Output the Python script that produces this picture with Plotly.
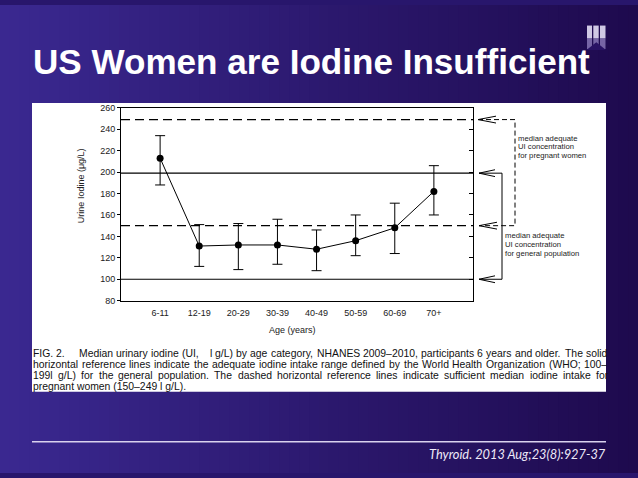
import plotly.graph_objects as go

# ---------------- data ----------------
categories = ["6-11", "12-19", "20-29", "30-39", "40-49", "50-59", "60-69", "70+"]
median_ui = [213, 131, 132, 132, 128, 136, 148, 182]
upper_ui = [234, 151, 152, 156, 146, 160, 171, 206]
lower_ui = [188, 112, 109, 114, 108, 122, 124, 160]
who_range = [100, 199]        # solid reference lines
pregnant_range = [150, 249]   # dashed reference lines
y_ticks = [80, 100, 120, 140, 160, 180, 200, 220, 240, 260]

W, H = 638, 478
def X(px): return px / W
def Y(py): return 1 - py / H

fig = go.Figure()

xs = list(range(len(categories)))
fig.add_trace(go.Scatter(
    x=xs, y=median_ui, mode="lines+markers",
    line=dict(color="black", width=1),
    marker=dict(color="black", size=7),
    error_y=dict(type="data", symmetric=False,
                 array=[u - m for u, m in zip(upper_ui, median_ui)],
                 arrayminus=[m - l for m, l in zip(median_ui, lower_ui)],
                 color="black", thickness=1, width=5),
    showlegend=False, hoverinfo="skip"))

for v in who_range:
    fig.add_shape(type="line", xref="x", yref="y", x0=-1, x1=8, y0=v, y1=v,
                  line=dict(color="black", width=1.2))
for v in pregnant_range:
    fig.add_shape(type="line", xref="x", yref="y", x0=-1, x1=8, y0=v, y1=v,
                  line=dict(color="black", width=1.2, dash="9px,5px"))

def chevron(tip, v, arm=18, dv=3.2):
    return [tip + arm, tip, tip + arm], [v + dv, v, v - dv]

p_lo, p_hi = pregnant_range
fig.add_trace(go.Scatter(x=[5, 42, 42, 6], y=[p_hi, p_hi, p_lo, p_lo], xaxis="x2", yaxis="y",
                         mode="lines", line=dict(color="black", width=1, dash="5px,3px"),
                         showlegend=False, hoverinfo="skip", cliponaxis=False))
for tip, v in [(5, p_hi), (6, p_lo)]:
    cx, cy = chevron(tip, v)
    fig.add_trace(go.Scatter(x=cx, y=cy, xaxis="x2", yaxis="y", mode="lines",
                             line=dict(color="black", width=1), showlegend=False,
                             hoverinfo="skip", cliponaxis=False))
w_lo, w_hi = who_range
fig.add_trace(go.Scatter(x=[6, 29, 29, 6], y=[w_hi, w_hi, w_lo, w_lo], xaxis="x2", yaxis="y",
                         mode="lines", line=dict(color="black", width=1),
                         showlegend=False, hoverinfo="skip", cliponaxis=False))
for tip, v in [(6, w_hi), (6, w_lo)]:
    cx, cy = chevron(tip, v, arm=16)
    fig.add_trace(go.Scatter(x=cx, y=cy, xaxis="x2", yaxis="y", mode="lines",
                             line=dict(color="black", width=1), showlegend=False,
                             hoverinfo="skip", cliponaxis=False))

# ---------------- background gradient ----------------
shapes = []
c0 = (58, 40, 144)
c1 = (30, 10, 78)
N = 64
for i in range(N):
    t = i / (N - 1)
    col = tuple(int(round(a + (b - a) * t)) for a, b in zip(c0, c1))
    shapes.append(dict(type="rect", xref="paper", yref="paper",
                       x0=i / N, x1=(i + 1) / N + 0.002, y0=0, y1=1,
                       fillcolor="rgb(%d,%d,%d)" % col, line=dict(width=0), layer="below"))
shapes.append(dict(type="rect", xref="paper", yref="paper",
                   x0=X(32), x1=X(606), y0=Y(395), y1=Y(100),
                   fillcolor="white", line=dict(width=0), layer="below"))
shapes.append(dict(type="line", xref="paper", yref="paper",
                   x0=X(32), x1=X(606), y0=Y(446), y1=Y(446),
                   line=dict(color="#d9d2ee", width=1.5), layer="above"))
for bx0, bx1 in [(587, 592), (593.3, 598.7), (600, 605.5)]:
    shapes.append(dict(type="rect", xref="paper", yref="paper",
                       x0=X(bx0), x1=X(bx1), y0=Y(34), y1=Y(21),
                       fillcolor="rgba(240,235,255,0.85)", line=dict(width=0), layer="above"))
    shapes.append(dict(type="rect", xref="paper", yref="paper",
                       x0=X(bx0), x1=X(bx1), y0=Y(45), y1=Y(34),
                       fillcolor="rgba(190,175,235,0.55)", line=dict(width=0), layer="above"))
shapes.append(dict(type="path", xref="paper", yref="paper",
                   path="M %f %f L %f %f L %f %f Z" % (X(586.5), Y(46), X(596.3), Y(38), X(606), Y(46)),
                   fillcolor="rgb(40,18,100)", line=dict(width=0), layer="above"))
for s in shapes:
    fig.add_shape(**s)

# ---------------- texts ----------------
ann = []
def T(text, x, y, size, xanchor="left", color="#222", family="Liberation Sans, Arial, sans-serif",
      angle=0, yanchor="middle"):
    ann.append(dict(text=text, x=X(x), y=Y(y), xref="paper", yref="paper", showarrow=False,
                    xanchor=xanchor, yanchor=yanchor, textangle=angle, borderpad=0,
                    font=dict(size=size, color=color, family=family)))

T("<b>US Women are Iodine Insufficient</b>", 32, 57.5, 35.1, color="white")
T("<i>Thyroid. 2013 Aug;23(8):927-37</i>", 607, 458.5, 12.8, xanchor="right", color="#eeeaf8",
  family="Lato, sans-serif")

T("Urine Iodine (μg/L)", 81, 185, 9, xanchor="center", angle=-90)
T("Age (years)", 292, 331.5, 9, xanchor="center")

for i, line in enumerate(["median adequate", "UI concentration", "for pregnant women"]):
    T(line, 517, 136 + 8.7 * i, 7.7, color="#222")
for i, line in enumerate(["median adequate", "UI concentration", "for general population"]):
    T(line, 504, 235.5 + 8.9 * i, 7.7, color="#222")

ARIAL = {' ': 278, '(': 333, ')': 333, ',': 278, '-': 333, '.': 278, '/': 278, ':': 278, ';': 278,
         '–': 556}
for ch in "0123456789":
    ARIAL[ch] = 556
ARIAL.update(dict(zip("ABCDEFGHIJKLMNOPQRSTUVWXYZ",
    [667, 667, 722, 722, 667, 611, 778, 722, 278, 500, 667, 556, 833, 722, 778, 667, 778, 722,
     667, 611, 722, 667, 944, 667, 667, 611])))
ARIAL.update(dict(zip("abcdefghijklmnopqrstuvwxyz",
    [556, 556, 500, 556, 556, 278, 556, 556, 222, 222, 500, 222, 833, 556, 556, 556, 556, 333,
     500, 278, 556, 500, 722, 500, 500, 500])))
CAP = 10.4
def wid(s): return sum(ARIAL.get(c, 556) for c in s) * CAP / 1000

def justify(words, x0, x1, y, weights=None):
    n = len(words)
    if weights is None:
        weights = [1] * (n - 1)
    free = (x1 - x0) - sum(wid(w) for w in words)
    unit = free / sum(weights)
    x = x0
    for i, w in enumerate(words):
        T(w, x, y, CAP, color="#111")
        x += wid(w) + (unit * weights[i] if i < n - 1 else 0)

CY = [355.5, 367, 378.5, 390]
T("FIG. 2.", 32, CY[0], CAP, color="#111")
l1 = "Median urinary iodine (UI, l g/L) by age category, NHANES 2009–2010, participants 6 years and older. The solid".split(" ")
w1 = [1] * (len(l1) - 1); w1[3] = 3.5
justify(l1, 78, 606, CY[0], w1)
justify("horizontal reference lines indicate the adequate iodine intake range defined by the World Health Organization (WHO; 100–".split(" "), 32, 606, CY[1])
justify("199l g/L) for the general population. The dashed horizontal reference lines indicate sufficient median iodine intake for".split(" "), 32, 607, CY[2])
T("pregnant women (150–249 l g/L).", 32, CY[3], CAP, color="#111")

fig.update_layout(
    width=W, height=H, margin=dict(l=0, r=0, t=0, b=0),
    paper_bgcolor="rgb(40,22,108)", plot_bgcolor="rgba(0,0,0,0)",
    showlegend=False, annotations=ann,
    font=dict(family="Liberation Sans, Arial, sans-serif", size=9, color="#222"),
    xaxis=dict(domain=[X(121), X(473)], range=[-1, 8], tickmode="array",
               tickvals=xs, ticktext=categories, showgrid=False, zeroline=False,
               showline=True, linecolor="black", linewidth=1, mirror=True,
               ticks="outside", ticklen=4, tickcolor="rgba(0,0,0,0)",
               tickfont=dict(size=9, color="#222"), anchor="y"),
    yaxis=dict(domain=[Y(302), Y(105)], range=[80, 260], tickmode="array",
               tickvals=y_ticks, showgrid=False, zeroline=False,
               showline=True, linecolor="black", linewidth=1, mirror=True,
               ticks="outside", ticklen=3, tickcolor="black",
               tickfont=dict(size=9, color="#222"), anchor="x"),
    yaxis2=dict(overlaying="y", side="right", anchor="x", range=[80, 260],
                tickmode="array", tickvals=y_ticks, showticklabels=False,
                ticks="inside", ticklen=4, tickcolor="black", showgrid=False,
                zeroline=False, showline=False),
    xaxis2=dict(domain=[X(473), X(606)], range=[0, 133], anchor="y", visible=False,
                showgrid=False, zeroline=False),
)
fig.add_trace(go.Scatter(x=[None], y=[None], yaxis="y2", xaxis="x", showlegend=False,
                         hoverinfo="skip"))

fig.write_html("out.html")
